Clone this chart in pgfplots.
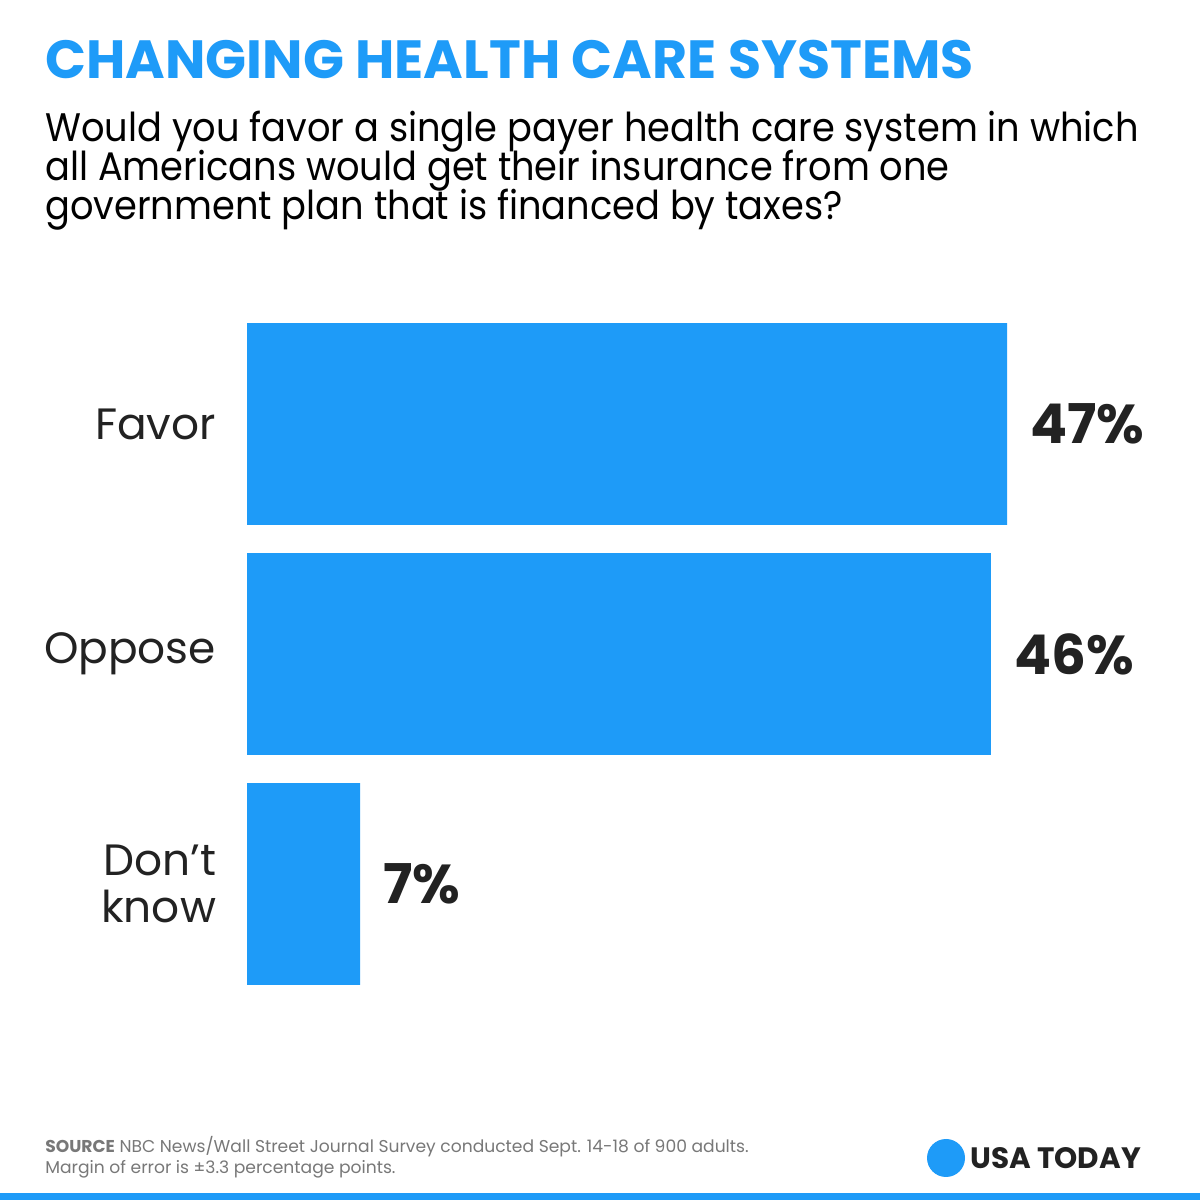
\documentclass[border=0pt]{standalone}
\usepackage{graphicx}
\usepackage{pgfplots}
\pgfplotsset{compat=1.18}
\usepackage{fontspec}
\setmainfont{Poppins}
\definecolor{usablue}{RGB}{30,155,248}
\definecolor{labelgray}{RGB}{34,34,34}
\definecolor{srcgray}{RGB}{120,120,120}
\newcommand{\sub}[1]{\scalebox{0.923}[1]{#1}}

\begin{document}
\begin{tikzpicture}[x=0.5bp,y=0.5bp]
  \path[fill=white] (0,0) rectangle (1200,1200);
  \coordinate (axtl) at (247,891);

  % title block
  \node[anchor=base west, inner sep=0, text=usablue, font=\fontsize{27}{30}\selectfont\bfseries]
    at (45,1121) {CHANGING HEALTH CARE SYSTEMS};
  \node[anchor=base west, inner sep=0, text=black, font=\fontsize{20}{19.5}\selectfont]
    at (45,1058) {\sub{Would you favor a single payer health care system in which}};
  \node[anchor=base west, inner sep=0, text=black, font=\fontsize{20}{19.5}\selectfont]
    at (45,1019) {\sub{all Americans would get their insurance from one}};
  \node[anchor=base west, inner sep=0, text=black, font=\fontsize{20}{19.5}\selectfont]
    at (45,980) {\sub{government plan that is financed by taxes?}};

  \begin{axis}[
      at={(axtl)}, anchor=north west,
      scale only axis,
      width=380bp, height=345bp,
      xbar,
      bar width=0.878,
      xmin=0, xmax=47,
      ymin=-0.5, ymax=2.5,
      y dir=reverse,
      axis line style={draw=none},
      xtick=\empty,
      ytick={0,1,2},
      yticklabels={Favor,Oppose,{Don’t\\know}},
      major tick length=0pt,
      yticklabel style={align=right, font=\fontsize{22}{23.5}\selectfont,
        text=labelgray, xshift=-12bp},
      /pgf/number format/assume math mode=true,
      nodes near coords={\pgfmathprintnumber{\pgfplotspointmeta}\%},
      every node near coord/.append style={anchor=west, inner sep=0,
        xshift=11.5bp, font=\fontsize{27.5}{29}\selectfont\bfseries, text=labelgray},
      clip=false,
    ]
    \addplot[fill=usablue, draw=none] coordinates {(47,0) (46,1) (7,2)};
  \end{axis}

  % footer
  \node[anchor=base west, inner sep=0, text=srcgray, font=\fontsize{8.6}{10}\selectfont]
    at (45,47) {\textbf{SOURCE} NBC News/Wall Street Journal Survey conducted Sept. 14-18 of 900 adults.};
  \node[anchor=base west, inner sep=0, text=srcgray, font=\fontsize{8.6}{10}\selectfont]
    at (45,26) {Margin of error is ±3.3 percentage points.};
  \fill[usablue] (946,42) circle[radius=19];
  \node[anchor=base west, inner sep=0, text=labelgray, font=\fontsize{14.8}{16}\selectfont\bfseries]
    at (970,31) {USA TODAY};
  \fill[usablue] (0,0) rectangle (1200,7);
\end{tikzpicture}
\end{document}
